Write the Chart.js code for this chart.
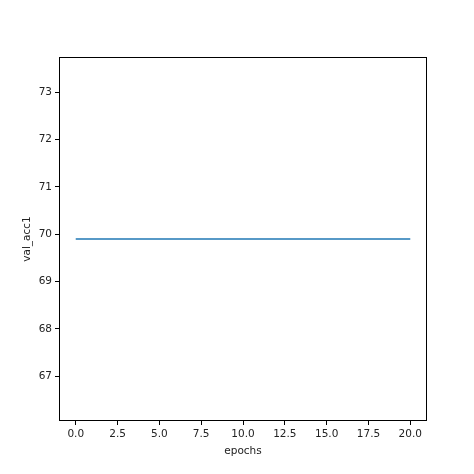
<!DOCTYPE html>
<html>
<head>
<meta charset="utf-8">
<script src="https://cdn.jsdelivr.net/npm/chart.js@4"></script>
<style>
  html, body { margin: 0; padding: 0; background: #fff; }
</style>
</head>
<body>
<canvas id="chart" width="474" height="474"></canvas>
<script>
// values
var epochs = [0, 1, 2, 3, 4, 5, 6, 7, 8, 9, 10, 11, 12, 13, 14, 15, 16, 17, 18, 19, 20];
var valAcc1 = [69.9, 69.9, 69.9, 69.9, 69.9, 69.9, 69.9, 69.9, 69.9, 69.9, 69.9,
               69.9, 69.9, 69.9, 69.9, 69.9, 69.9, 69.9, 69.9, 69.9, 69.9];
var xTicks = [0, 2.5, 5, 7.5, 10, 12.5, 15, 17.5, 20];
var yTicks = [67, 68, 69, 70, 71, 72, 73];

var font = { family: 'DejaVu Sans', size: 10.5 };

// matplotlib style full frame round the plot area
var boxPlugin = {
    id: 'box',
    afterDraw: function(chart) {
        var a = chart.chartArea;
        var ctx = chart.ctx;
        ctx.save();
        ctx.strokeStyle = '#000';
        ctx.lineWidth = 1;
        ctx.strokeRect(a.left + 0.5, a.top + 0.5, a.right - a.left - 1, a.bottom - a.top - 1);
        ctx.restore();
    }
};

var ctx = document.getElementById('chart').getContext('2d');
var myChart = new Chart(ctx, {
    type: 'line',
    data: {
        datasets: [{
            label: 'val_acc1',
            data: epochs.map(function(e, i) { return { x: e, y: valAcc1[i] }; }),
            borderColor: '#1f77b4',
            borderWidth: 1.7,
            pointRadius: 0,
            fill: false
        }]
    },
    options: {
        responsive: false,
        animation: false,
        layout: { padding: { top: 57, right: 47, left: 0, bottom: 0 } },
        plugins: {
            legend: { display: false },
            tooltip: { enabled: false }
        },
        scales: {
            x: {
                type: 'linear',
                min: -1,
                max: 21,
                afterBuildTicks: function(scale) {
                    scale.ticks = xTicks.map(function(v) { return { value: v }; });
                },
                afterFit: function(scale) { scale.height = 53; },
                grid: { drawOnChartArea: false, color: '#000', tickLength: 4, tickWidth: 1 },
                border: { display: false },
                ticks: {
                    color: '#222',
                    font: font,
                    padding: 3,
                    maxRotation: 0,
                    callback: function(v) { return Number(v).toFixed(1); }
                },
                title: { display: true, text: 'epochs', color: '#222', font: font, padding: { top: 0, bottom: 16 } }
            },
            y: {
                min: 66.05,
                max: 73.75,
                afterBuildTicks: function(scale) {
                    scale.ticks = yTicks.map(function(v) { return { value: v }; });
                },
                afterFit: function(scale) { scale.width = 59; },
                grid: { drawOnChartArea: false, color: '#000', tickLength: 4, tickWidth: 1 },
                border: { display: false },
                ticks: { color: '#222', font: font, padding: 3 },
                title: { display: true, text: 'val_acc1', color: '#222', font: font, padding: { top: 21, bottom: 0 } }
            }
        }
    },
    plugins: [boxPlugin]
});
</script>
</body>
</html>
